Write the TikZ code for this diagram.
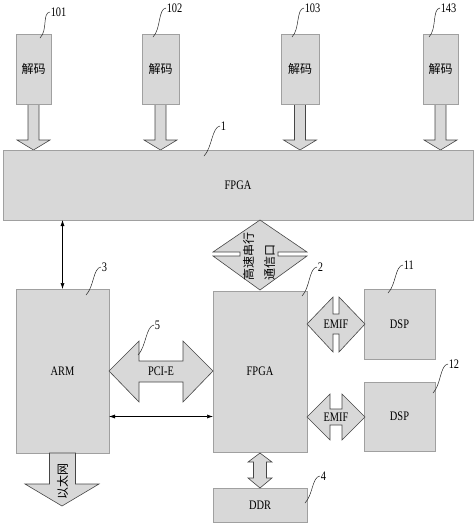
\documentclass[tikz,border=0pt]{standalone}
\usepackage{fontspec}
\setmainfont{Liberation Serif}[FakeStretch=0.8]
\newfontfamily\cjk{Noto Sans CJK SC}
\usetikzlibrary{arrows.meta,calc}
\definecolor{boxfill}{RGB}{216,216,216}
\definecolor{boxline}{RGB}{160,160,160}
\definecolor{arrline}{RGB}{70,70,70}
\begin{document}
\begin{tikzpicture}[x=1pt,y=-1pt,
  box/.style={draw=boxline, fill=boxfill, line width=0.6pt, inner sep=0pt, outer sep=0pt, font=\fontsize{13}{15}\selectfont},
  cbox/.style={box, font=\cjk\fontsize{12}{14}\selectfont},
  blk/.style={draw=arrline, fill=boxfill, line width=0.6pt, line join=miter},
  lbl/.style={font=\fontsize{13}{15}\selectfont, inner sep=0.5pt, anchor=west},
  leader/.style={draw=black!85, line width=0.5pt},
  thinarr/.style={draw=black, line width=0.5pt, {Latex[length=6pt,width=4pt]}-{Latex[length=6pt,width=4pt]}},
  cjkt/.style={font=\cjk\fontsize{12}{21}\selectfont, inner sep=0pt},
  txt/.style={font=\fontsize{13}{15}\selectfont, inner sep=0pt}
]
\useasboundingbox (0,0) rectangle (474,525);

% decoder arrows
\foreach \cx in {33.5,160.5,300,440.5}{
  \draw[blk] (\cx-5.5,104) -- (\cx-5.5,140) -- (\cx-16.5,140) -- (\cx,150) -- (\cx+16.5,140) -- (\cx+5.5,140) -- (\cx+5.5,104) -- cycle;
}

% boxes
\node[cbox, minimum width=35pt, minimum height=70pt] (d1) at (33.5,69) {解码};
\node[cbox, minimum width=37pt, minimum height=70pt] (d2) at (160.5,69) {解码};
\node[cbox, minimum width=38pt, minimum height=70pt] (d3) at (300,69) {解码};
\node[cbox, minimum width=35pt, minimum height=70pt] (d4) at (440.5,69) {解码};
\node[box, minimum width=470pt, minimum height=70pt] (fpga1) at (238,185) {FPGA};
\node[box, minimum width=93pt, minimum height=164pt] (arm) at (62.5,371) {ARM};
\node[box, minimum width=94pt, minimum height=161pt] (fpga2) at (260,371.5) {FPGA};
\node[box, minimum width=71pt, minimum height=70pt] (dsp1) at (399.5,324) {DSP};
\node[box, minimum width=71pt, minimum height=69pt] (dsp2) at (399.5,416.5) {DSP};
\node[box, minimum width=94pt, minimum height=34pt] (ddr) at (260,505) {DDR};

% high-speed serial link arrow
\draw[blk] (260,220) -- (307,252) -- (278,252) -- (278,256) -- (307,256) -- (260,290) -- (213,256) -- (240,256) -- (240,252) -- (213,252) -- cycle;
\node[cjkt, rotate=90, align=left] (hs) at (259,256) {高速串行\\通信口};

% PCI-E arrow
\draw[blk] (109,371) -- (139,341) -- (139,361) -- (183,361) -- (183,341) -- (213,371) -- (183,402) -- (183,382) -- (139,382) -- (139,402) -- cycle;
\node[txt] (pcie) at (161,371) {PCI-E};

% EMIF arrows
\draw[blk] (307,324) -- (333,297) -- (333,314) -- (339,314) -- (339,297) -- (365,324) -- (339,352) -- (339,334) -- (333,334) -- (333,352) -- cycle;
\node[txt] (emif1) at (336,324) {EMIF};
\draw[blk] (307,417) -- (330,394) -- (330,409) -- (342,409) -- (342,394) -- (365,417) -- (342,440) -- (342,425) -- (330,425) -- (330,440) -- cycle;
\node[txt] (emif2) at (336,417) {EMIF};

% DDR arrow
\draw[blk] (260,453) -- (272,462) -- (266.5,462) -- (266.5,478) -- (272,478) -- (260,488) -- (248,478) -- (253.5,478) -- (253.5,462) -- (248,462) -- cycle;

% Ethernet arrow
\draw[blk] (49.5,453) -- (49.5,484) -- (25,484) -- (62,506) -- (99,484) -- (75.5,484) -- (75.5,453) -- cycle;
\node[cjkt, rotate=90] (eth) at (62.5,481) {以太网};

% thin arrows
\draw[thinarr] (arm.north |- fpga1.south) -- (arm.north);
\draw[thinarr] (arm.east |- dsp2.west) -- (fpga2.west |- dsp2.west);

% leaders and labels
\draw[leader] (40,38) .. controls +(8,-8) and +(-8,1) .. (50,12) node[lbl] (l101) {101};
\draw[leader] (153,37) .. controls +(8,-8) and +(-8,1) .. (166,8) node[lbl] (l102) {102};
\draw[leader] (292,37) .. controls +(8,-8) and +(-8,1) .. (304,8) node[lbl] (l103) {103};
\draw[leader] (429,37) .. controls +(8,-8) and +(-8,1) .. (440,8) node[lbl] (l143) {143};
\draw[leader] (204,156) .. controls +(8,-8) and +(-8,1) .. (220,126) node[lbl] (l1) {1};
\draw[leader] (302,296) .. controls +(8,-8) and +(-8,1) .. (317,267) node[lbl] (l2) {2};
\draw[leader] (86,295) .. controls +(8,-8) and +(-8,1) .. (101,267) node[lbl] (l3) {3};
\draw[leader] (138,355) .. controls +(8,-8) and +(-8,1) .. (154,325) node[lbl] (l5) {5};
\draw[leader] (305,503) .. controls +(8,-8) and +(-8,1) .. (320,476) node[lbl] (l4) {4};
\draw[leader] (388,293) .. controls +(8,-8) and +(-8,1) .. (403,265) node[lbl] (l11) {11};
\draw[leader] (433,393) .. controls +(8,-8) and +(-8,1) .. (448,364) node[lbl] (l12) {12};
\end{tikzpicture}
\end{document}
